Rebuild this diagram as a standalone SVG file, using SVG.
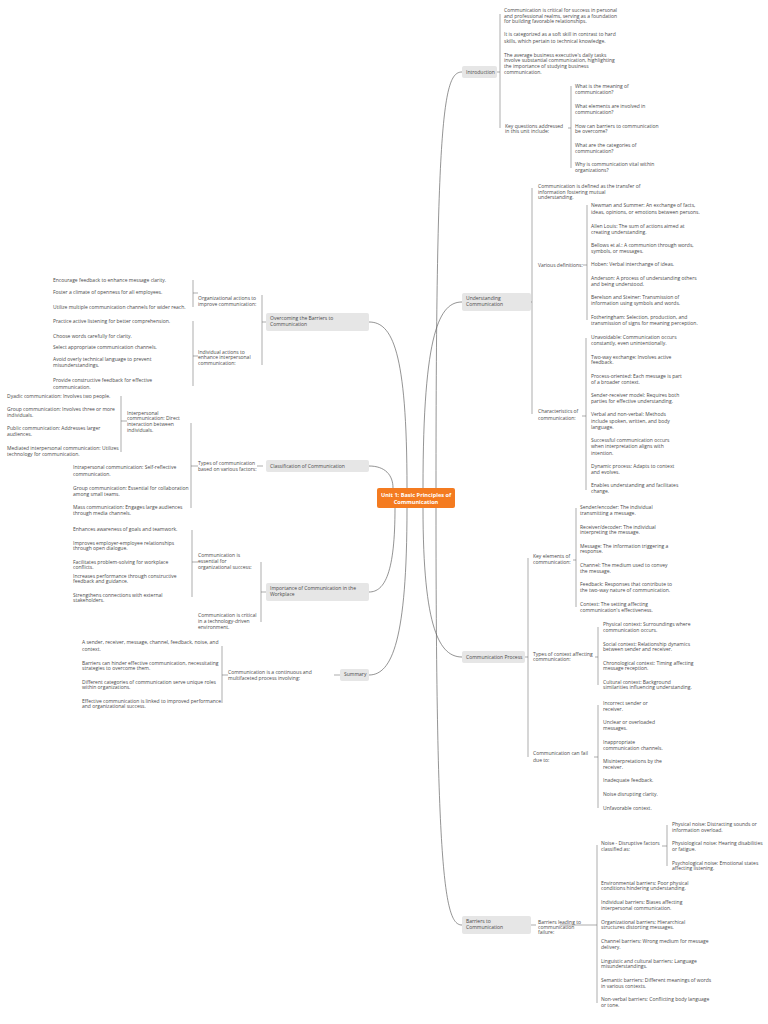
<svg xmlns="http://www.w3.org/2000/svg" width="768" height="1024" viewBox="0 0 768 1024">
<style>
text{font-family:"Open Sans","Noto Sans","Liberation Sans",sans-serif;font-size:5px;fill:#4a4a4a}
.n{fill:#e6e6e6}
.br{fill:none;stroke:#777;stroke-width:0.6}
.c{fill:none;stroke:#666;stroke-width:0.7}
.root{font-size:5.6px;font-weight:bold;fill:#fff}
</style>
<rect width="768" height="1024" fill="#fff"/>
<g id="connectors">
<path class="c" d="M436,488 C436,110 444,72 462,72"/>
<path class="c" d="M423,488 C423,330 440,302 462,302"/>
<path class="c" d="M407,488 C407,350 392,322 369,322"/>
<path class="c" d="M393,488 C393,475 385,466 369,466"/>
<path class="c" d="M395,508 C395,572 385,592 369,592"/>
<path class="c" d="M407,508 C407,640 392,675 369,675"/>
<path class="c" d="M423,508 C423,630 440,657 462,657"/>
<path class="c" d="M436,508 C436,880 445,925 462,925"/>
<!-- braces -->
<path class="br" d="M497,72 H500 M500,14 V128"/>
<path class="br" d="M568,128 H571 M571,86 V168"/>
<path class="br" d="M531,302 H532 M532,188 V414"/>
<path class="br" d="M583,265 H587 M587,205 V320"/>
<path class="br" d="M582,416 H586 M586,338 V490"/>
<path class="br" d="M525,657 H528 M528,558 V757"/>
<path class="br" d="M573,560 H576 M576,508 V607"/>
<path class="br" d="M595,657 H598 M598,627 V685"/>
<path class="br" d="M594,757 H598 M598,705 V808"/>
<path class="br" d="M531,925 H536"/>
<path class="br" d="M560,925 H597 M597,845 V1003"/>
<path class="br" d="M662,846 H667 M667,825 V866"/>
<path class="br" d="M266,322 H262 M262,295 V365"/>
<path class="br" d="M198,293 H193 M193,280 V307"/>
<path class="br" d="M198,356 H193 M193,321 V386"/>
<path class="br" d="M257,466 H263"/>
<path class="br" d="M198,466 H191 M191,423 V508"/>
<path class="br" d="M127,421 H121 M121,396 V452"/>
<path class="br" d="M266,592 H261 M261,562 V622"/>
<path class="br" d="M198,562 H192 M192,530 V597"/>
<path class="br" d="M334,675 H340"/>
<path class="br" d="M228,675 H222 M222,646 V703"/>
</g>
<g id="root"><rect x="377" y="488" width="78" height="20" rx="2" fill="#f47b20"/>
<text class="root" x="416" y="496.5" text-anchor="middle">Unit 1: Basic Principles of</text>
<text class="root" x="416" y="503.5" text-anchor="middle">Communication</text></g>

<g id="introduction"><rect class="n" x="462" y="66" width="35" height="12" rx="2"/><text x="466" y="74">Introduction</text></g>
<g id="intro-children">
<text x="504" y="11.8">Communication is critical for success in personal<tspan x="504" dy="5.7">and professional realms, serving as a foundation</tspan><tspan x="504" dy="5.7">for building favorable relationships.</tspan></text>
<text x="504" y="36.1">It is categorized as a soft skill in contrast to hard<tspan x="504" dy="6.7">skills, which pertain to technical knowledge.</tspan></text>
<text x="504" y="56.5">The average business executive's daily tasks<tspan x="504" dy="5.7">involve substantial communication, highlighting</tspan><tspan x="504" dy="5.9">the importance of studying business</tspan><tspan x="504" dy="5.7">communication.</tspan></text>
<text x="505" y="127.5">Key questions addressed<tspan x="505" dy="5.6">in this unit include:</tspan></text>
<text x="575" y="87.5">What is the meaning of<tspan x="575" dy="6">communication?</tspan></text>
<text x="575" y="107.8">What elements are involved in<tspan x="575" dy="5.7">communication?</tspan></text>
<text x="575" y="127.5">How can barriers to communication<tspan x="575" dy="5.6">be overcome?</tspan></text>
<text x="575" y="146.8">What are the categories of<tspan x="575" dy="6">communication?</tspan></text>
<text x="575" y="166.1">Why is communication vital within<tspan x="575" dy="5.7">organizations?</tspan></text>
</g>

<g id="understanding"><rect class="n" x="462" y="293" width="69" height="18" rx="2"/><text x="466" y="299.5">Understanding<tspan x="466" dy="6">Communication</tspan></text></g>
<g id="understanding-children">
<text x="538" y="187.8">Communication is defined as the transfer of<tspan x="538" dy="5.7">information fostering mutual</tspan><tspan x="538" dy="5.7">understanding.</tspan></text>
<text x="538" y="266.8">Various definitions:</text>
<text x="538" y="412.5">Characteristics of<tspan x="538" dy="7">communication:</tspan></text>
<text x="591" y="206.8">Newman and Summer: An exchange of facts,<tspan x="591" dy="7.3">ideas, opinions, or emotions between persons.</tspan></text>
<text x="591" y="227.5">Allen Louis: The sum of actions aimed at<tspan x="591" dy="6">creating understanding.</tspan></text>
<text x="591" y="246.8">Bellows et al.: A communion through words,<tspan x="591" dy="6">symbols, or messages.</tspan></text>
<text x="591" y="266.1">Hoben: Verbal interchange of ideas.</text>
<text x="591" y="280.1">Anderson: A process of understanding others<tspan x="591" dy="5.4">and being understood.</tspan></text>
<text x="591" y="299.1">Berelson and Steiner: Transmission of<tspan x="591" dy="5.4">information using symbols and words.</tspan></text>
<text x="591" y="318.5">Fotheringham: Selection, production, and<tspan x="591" dy="6">transmission of signs for meaning perception.</tspan></text>
<text x="591" y="339.1">Unavoidable: Communication occurs<tspan x="591" dy="6">constantly, even unintentionally.</tspan></text>
<text x="591" y="358.5">Two-way exchange: Involves active<tspan x="591" dy="5.3">feedback.</tspan></text>
<text x="591" y="377.5">Process-oriented: Each message is part<tspan x="591" dy="6.6">of a broader context.</tspan></text>
<text x="591" y="396.8">Sender-receiver model: Requires both<tspan x="591" dy="6.3">parties for effective understanding.</tspan></text>
<text x="591" y="416.1">Verbal and non-verbal: Methods<tspan x="591" dy="6.4">include spoken, written, and body</tspan><tspan x="591" dy="6.3">language.</tspan></text>
<text x="591" y="441.8">Successful communication occurs<tspan x="591" dy="6.3">when interpretation aligns with</tspan><tspan x="591" dy="6.4">intention.</tspan></text>
<text x="591" y="467.5">Dynamic process: Adapts to context<tspan x="591" dy="6.3">and evolves.</tspan></text>
<text x="591" y="486.5">Enables understanding and facilitates<tspan x="591" dy="6.6">change.</tspan></text>
</g>

<g id="communication-process"><rect class="n" x="462" y="651" width="63" height="12" rx="2"/><text x="466" y="658.8">Communication Process</text></g>
<g id="process-children">
<text x="533" y="557.5">Key elements of<tspan x="533" dy="6">communication:</tspan></text>
<text x="533" y="655.8">Types of context affecting<tspan x="533" dy="4.7">communication:</tspan></text>
<text x="533" y="755.1">Communication can fail<tspan x="533" dy="6.7">due to:</tspan></text>
<text x="580" y="509.1">Sender/encoder: The individual<tspan x="580" dy="5.4">transmitting a message.</tspan></text>
<text x="580" y="528.5">Receiver/decoder: The individual<tspan x="580" dy="5.6">interpreting the message.</tspan></text>
<text x="580" y="547.5">Message: The information triggering a<tspan x="580" dy="5.6">response.</tspan></text>
<text x="580" y="566.8">Channel: The medium used to convey<tspan x="580" dy="6.3">the message.</tspan></text>
<text x="580" y="586.1">Feedback: Responses that contribute to<tspan x="580" dy="6">the two-way nature of communication.</tspan></text>
<text x="580" y="605.5">Context: The setting affecting<tspan x="580" dy="6">communication's effectiveness.</tspan></text>
<text x="603" y="625.5">Physical context: Surroundings where<tspan x="603" dy="6">communication occurs.</tspan></text>
<text x="603" y="646.1">Social context: Relationship dynamics<tspan x="603" dy="5">between sender and receiver.</tspan></text>
<text x="603" y="665.1">Chronological context: Timing affecting<tspan x="603" dy="5">message reception.</tspan></text>
<text x="603" y="684.1">Cultural context: Background<tspan x="603" dy="5">similarities influencing understanding.</tspan></text>
<text x="603" y="705.1">Incorrect sender or<tspan x="603" dy="5.4">receiver.</tspan></text>
<text x="603" y="724.1">Unclear or overloaded<tspan x="603" dy="5.4">messages.</tspan></text>
<text x="603" y="743.8">Inappropriate<tspan x="603" dy="5.7">communication channels.</tspan></text>
<text x="603" y="763.1">Misinterpretations by the<tspan x="603" dy="5.7">receiver.</tspan></text>
<text x="603" y="781.8">Inadequate feedback.</text>
<text x="603" y="795.8">Noise disrupting clarity.</text>
<text x="603" y="809.8">Unfavorable context.</text>
</g>

<g id="barriers"><rect class="n" x="462" y="916" width="69" height="18" rx="2"/><text x="466" y="922.8">Barriers to<tspan x="466" dy="5.7">Communication</tspan></text></g>
<g id="barriers-children">
<text x="538" y="923.5">Barriers leading to<tspan x="538" dy="5">communication</tspan><tspan x="538" dy="5.3">failure:</tspan></text>
<text x="601" y="845.1">Noise - Disruptive factors<tspan x="601" dy="5.4">classified as:</tspan></text>
<text x="601" y="884.5">Environmental barriers: Poor physical<tspan x="601" dy="5.6">conditions hindering understanding.</tspan></text>
<text x="601" y="904.1">Individual barriers: Biases affecting<tspan x="601" dy="5.7">interpersonal communication.</tspan></text>
<text x="601" y="923.5">Organizational barriers: Hierarchical<tspan x="601" dy="5.6">structures distorting messages.</tspan></text>
<text x="601" y="942.8">Channel barriers: Wrong medium for message<tspan x="601" dy="5.7">delivery.</tspan></text>
<text x="601" y="962.5">Linguistic and cultural barriers: Language<tspan x="601" dy="5.6">misunderstandings.</tspan></text>
<text x="601" y="981.8">Semantic barriers: Different meanings of words<tspan x="601" dy="6">in various contexts.</tspan></text>
<text x="601" y="1001.1">Non-verbal barriers: Conflicting body language<tspan x="601" dy="5.7">or tone.</tspan></text>
<text x="672" y="825.8">Physical noise: Distracting sounds or<tspan x="672" dy="6">information overload.</tspan></text>
<text x="672" y="845.1">Physiological noise: Hearing disabilities<tspan x="672" dy="5.7">or fatigue.</tspan></text>
<text x="672" y="864.5">Psychological noise: Emotional states<tspan x="672" dy="5.3">affecting listening.</tspan></text>
</g>

<g id="overcoming"><rect class="n" x="266" y="313" width="103" height="18" rx="2"/><text x="270" y="319.5">Overcoming the Barriers to<tspan x="270" dy="6.6">Communication</tspan></text></g>
<g id="overcoming-children">
<text x="198" y="300.1">Organizational actions to<tspan x="198" dy="5.7">improve communication:</tspan></text>
<text x="198" y="353.5">Individual actions to<tspan x="198" dy="5.6">enhance interpersonal</tspan><tspan x="198" dy="5.7">communication:</tspan></text>
<text x="53" y="281.8">Encourage feedback to enhance message clarity.</text>
<text x="53" y="294.1">Foster a climate of openness for all employees.</text>
<text x="53" y="308.5">Utilize multiple communication channels for wider reach.</text>
<text x="53" y="322.5">Practice active listening for better comprehension.</text>
<text x="53" y="337.5">Choose words carefully for clarity.</text>
<text x="53" y="348.5">Select appropriate communication channels.</text>
<text x="53" y="361.1">Avoid overly technical language to prevent<tspan x="53" dy="5.7">misunderstandings.</tspan></text>
<text x="53" y="381.8">Provide constructive feedback for effective<tspan x="53" dy="7">communication.</tspan></text>
</g>

<g id="classification"><rect class="n" x="266" y="460" width="103" height="12" rx="2"/><text x="270" y="467.5">Classification of Communication</text></g>
<g id="classification-children">
<text x="198" y="465.1">Types of communication<tspan x="198" dy="5.4">based on various factors:</tspan></text>
<text x="127" y="414.5">Interpersonal<tspan x="127" dy="5.6">communication: Direct</tspan><tspan x="127" dy="5.7">interaction between</tspan><tspan x="127" dy="6">individuals.</tspan></text>
<text x="73" y="469.1">Intrapersonal communication: Self-reflective<tspan x="73" dy="6.7">communication.</tspan></text>
<text x="73" y="490.1">Group communication: Essential for collaboration<tspan x="73" dy="5.4">among small teams.</tspan></text>
<text x="73" y="509.1">Mass communication: Engages large audiences<tspan x="73" dy="5.4">through media channels.</tspan></text>
<text x="7" y="397.8">Dyadic communication: Involves two people.</text>
<text x="7" y="410.8">Group communication: Involves three or more<tspan x="7" dy="5.7">individuals.</tspan></text>
<text x="7" y="430.1">Public communication: Addresses larger<tspan x="7" dy="5.7">audiences.</tspan></text>
<text x="7" y="450.1">Mediated interpersonal communication: Utilizes<tspan x="7" dy="5.4">technology for communication.</tspan></text>
</g>

<g id="importance"><rect class="n" x="266" y="583" width="103" height="18" rx="2"/><text x="270" y="590.1">Importance of Communication in the<tspan x="270" dy="6">Workplace</tspan></text></g>
<g id="importance-children">
<text x="198" y="557.1">Communication is<tspan x="198" dy="6">essential for</tspan><tspan x="198" dy="6">organizational success:</tspan></text>
<text x="198" y="616.8">Communication is critical<tspan x="198" dy="6">in a technology-driven</tspan><tspan x="198" dy="6.3">environment.</tspan></text>
<text x="73" y="530.8">Enhances awareness of goals and teamwork.</text>
<text x="73" y="544.8">Improves employer-employee relationships<tspan x="73" dy="5.3">through open dialogue.</tspan></text>
<text x="73" y="564.1">Facilitates problem-solving for workplace<tspan x="73" dy="5">conflicts.</tspan></text>
<text x="73" y="578.1">Increases performance through constructive<tspan x="73" dy="5">feedback and guidance.</tspan></text>
<text x="73" y="596.8">Strengthens connections with external<tspan x="73" dy="5.3">stakeholders.</tspan></text>
</g>

<g id="summary"><rect class="n" x="340" y="669" width="29" height="12" rx="2"/><text x="344" y="676.1">Summary</text></g>
<g id="summary-children">
<text x="228" y="674.1">Communication is a continuous and<tspan x="228" dy="5.4">multifaceted process involving:</tspan></text>
<text x="82" y="644.1">A sender, receiver, message, channel, feedback, noise, and<tspan x="82" dy="6.7">context.</tspan></text>
<text x="82" y="664.5">Barriers can hinder effective communication, necessitating<tspan x="82" dy="5">strategies to overcome them.</tspan></text>
<text x="82" y="683.5">Different categories of communication serve unique roles<tspan x="82" dy="5.3">within organizations.</tspan></text>
<text x="82" y="702.8">Effective communication is linked to improved performance<tspan x="82" dy="5.3">and organizational success.</tspan></text>
</g>
</svg>
